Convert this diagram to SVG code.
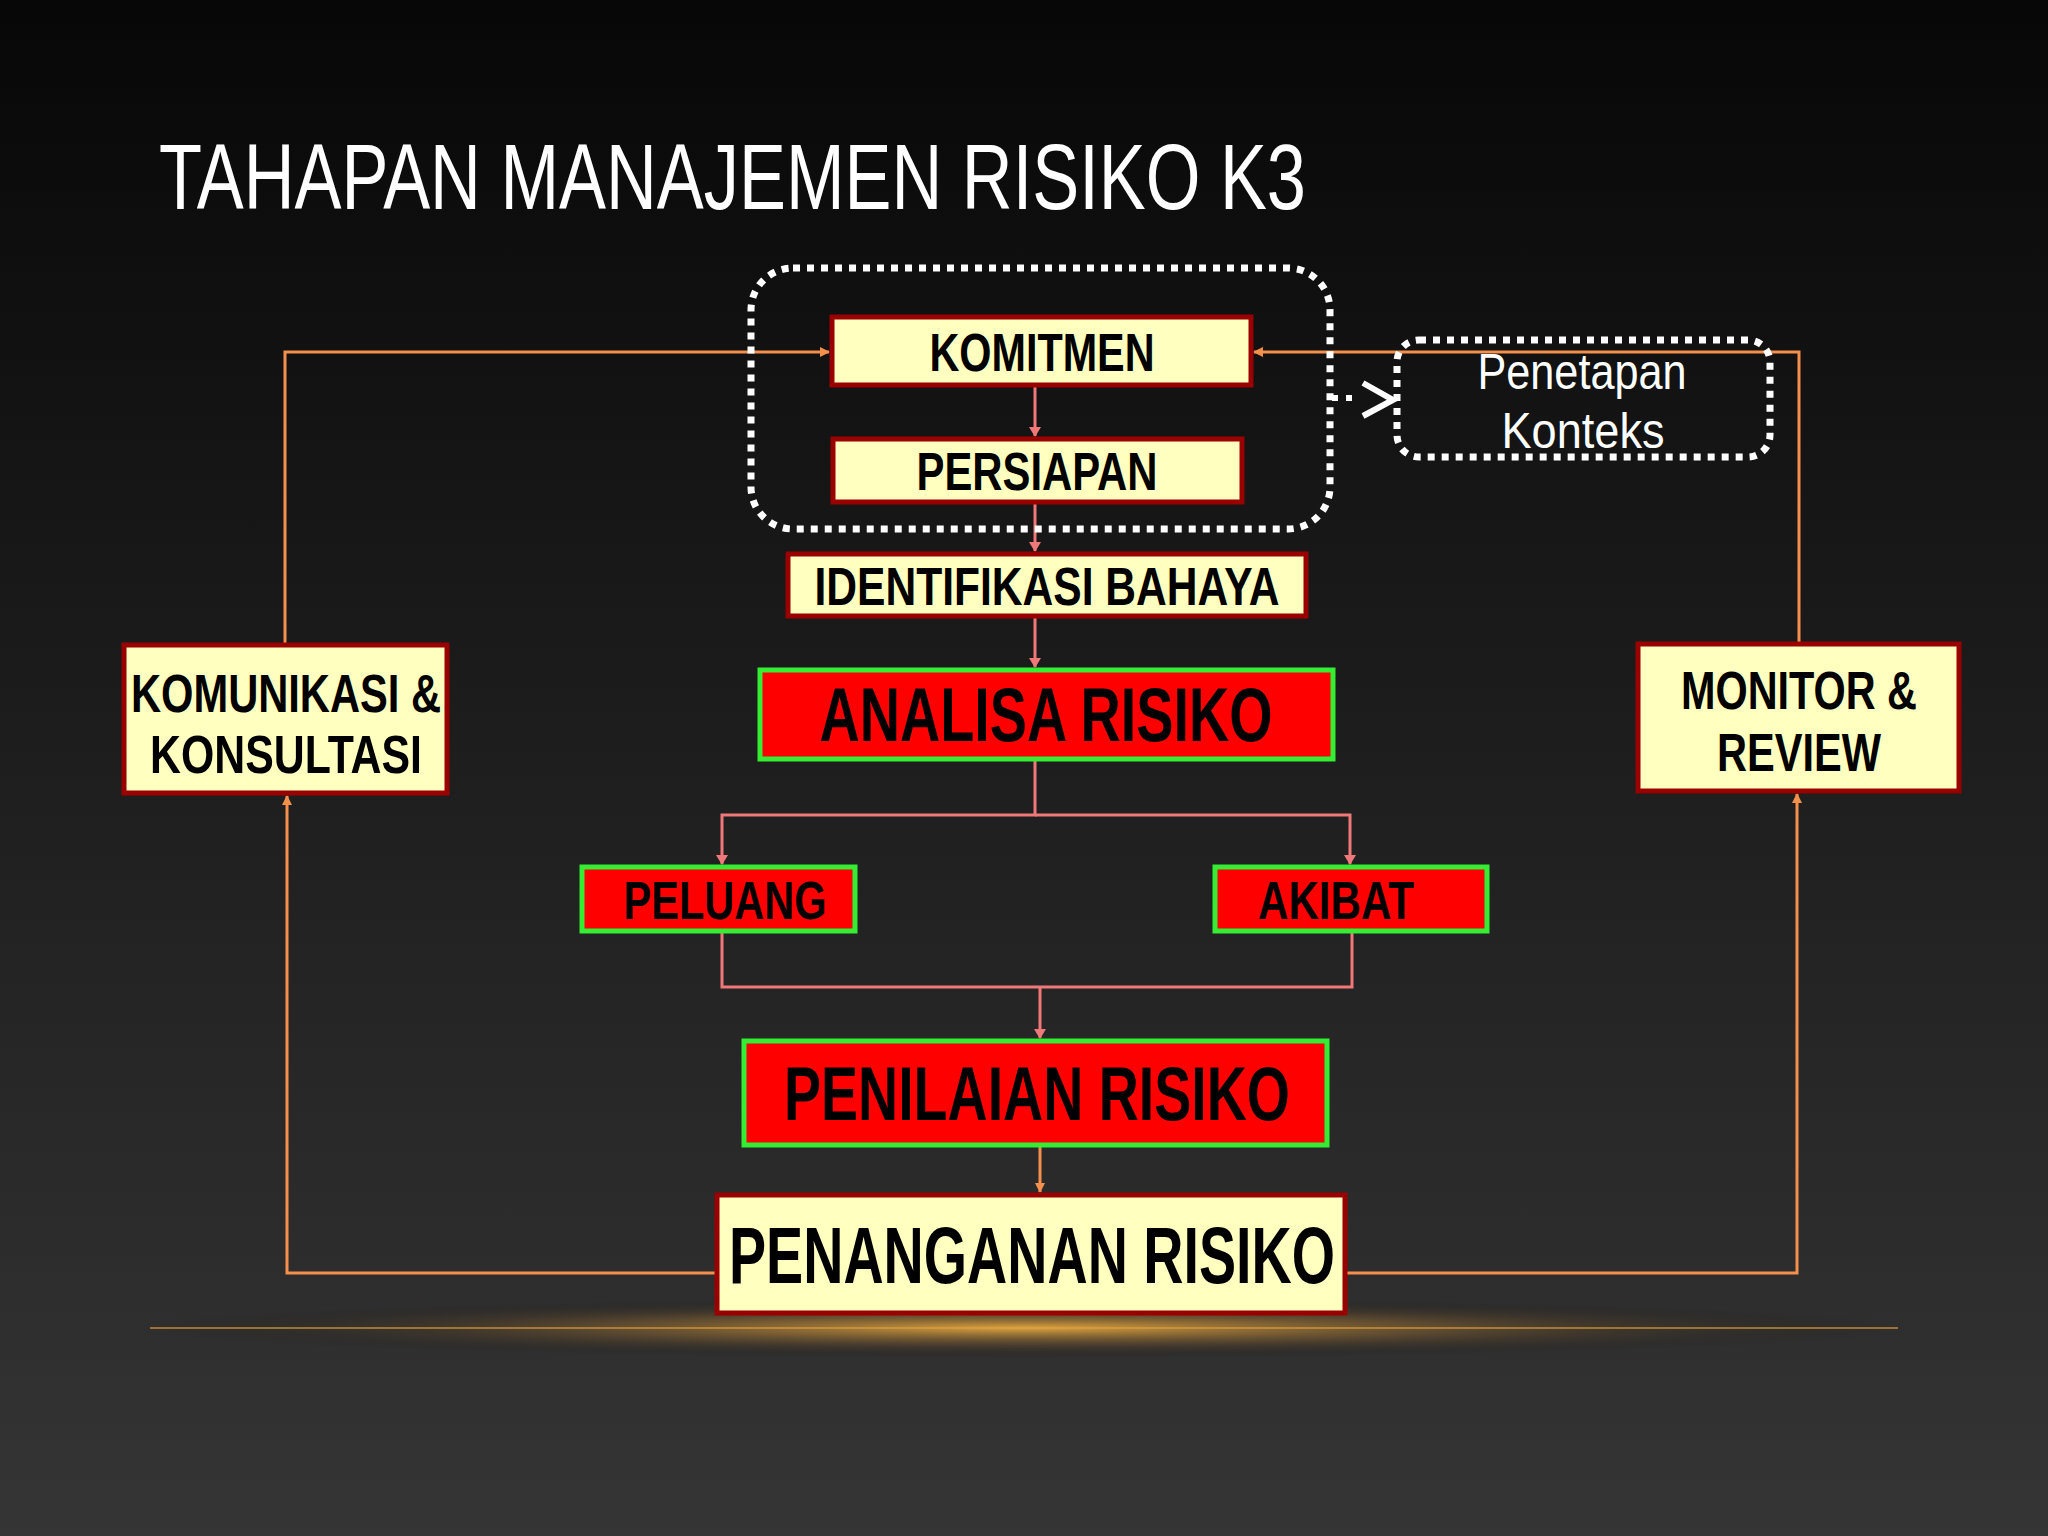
<svg xmlns="http://www.w3.org/2000/svg" width="2048" height="1536" viewBox="0 0 2048 1536">
<defs>
<linearGradient id="bg" x1="0" y1="0" x2="0" y2="1"><stop offset="0" stop-color="#070707"/><stop offset="1" stop-color="#353535"/></linearGradient>
<radialGradient id="glow" cx="0.5" cy="0.5" r="0.5"><stop offset="0" stop-color="#f0b040" stop-opacity="0.9"/><stop offset="0.5" stop-color="#a07030" stop-opacity="0.35"/><stop offset="1" stop-color="#000" stop-opacity="0"/></radialGradient>
<marker id="ao" markerWidth="10" markerHeight="10" refX="9" refY="5" orient="auto" markerUnits="userSpaceOnUse"><path d="M0,0 L10,5 L0,10 z" fill="#f4904c"/></marker>
<marker id="ap" markerWidth="10" markerHeight="12" refX="9" refY="6" orient="auto" markerUnits="userSpaceOnUse"><path d="M0,0 L10,6 L0,12 z" fill="#f07878"/></marker>
<style>
.y{fill:#ffffc0;stroke:#9a0000;stroke-width:5}
.r{fill:#ff0000;stroke:#33ee33;stroke-width:5}
.t{font-family:"Liberation Sans",Arial,sans-serif;font-weight:bold;fill:#000;text-anchor:middle}
.w{font-family:"Liberation Sans",Arial,sans-serif;fill:#fff;text-anchor:middle}
.o{fill:none;stroke:#f4904c;stroke-width:3}
.p{fill:none;stroke:#f07878;stroke-width:3}
.d{fill:none;stroke:#fff;stroke-width:7;stroke-dasharray:7 7}
</style>
</defs>
<rect width="2048" height="1536" fill="url(#bg)"/>
<ellipse cx="1024" cy="1328" rx="900" ry="30" fill="url(#glow)"/>
<rect x="150" y="1327" width="1748" height="2" fill="#e0a040" opacity="0.6"/>
<text x="159" y="209" font-family="Liberation Sans,Arial,sans-serif" font-size="92" fill="#fff" textLength="1147" lengthAdjust="spacingAndGlyphs">TAHAPAN MANAJEMEN RISIKO K3</text>
<g id="connectors">
<polyline class="o" points="717,1273 287,1273 287,796" marker-end="url(#ao)"/>
<polyline class="o" points="285,645 285,352 829,352" marker-end="url(#ao)"/>
<polyline class="o" points="1345,1273 1797,1273 1797,794" marker-end="url(#ao)"/>
<polyline class="o" points="1799,644 1799,352 1254,352" marker-end="url(#ao)"/>
<line class="o" x1="1040" y1="1145" x2="1040" y2="1192" marker-end="url(#ao)"/>
<line class="p" x1="1035" y1="385" x2="1035" y2="436" marker-end="url(#ap)"/>
<line class="p" x1="1035" y1="502" x2="1035" y2="551" marker-end="url(#ap)"/>
<line class="p" x1="1035" y1="616" x2="1035" y2="667" marker-end="url(#ap)"/>
<polyline class="p" points="1035,759 1035,815 722,815 722,864" marker-end="url(#ap)"/>
<polyline class="p" points="1035,815 1350,815 1350,864" marker-end="url(#ap)"/>
<polyline class="p" points="722,931 722,987 1352,987 1352,931"/>
<line class="p" x1="1040" y1="987" x2="1040" y2="1038" marker-end="url(#ap)"/>
<line x1="1332" y1="398" x2="1360" y2="398" stroke="#fff" stroke-width="6" stroke-dasharray="6 8"/>
<polyline points="1363,383 1393,400 1363,416" fill="none" stroke="#fff" stroke-width="6"/>
</g>
<g id="group-dashed"><rect class="d" x="751" y="268" width="579" height="261" rx="42"/></g>
<g id="penetapan"><rect class="d" x="1397" y="340" width="373" height="117" rx="22"/>
<text class="w" x="1582" y="389" font-size="50" textLength="209" lengthAdjust="spacingAndGlyphs">Penetapan</text>
<text class="w" x="1583" y="448" font-size="50" textLength="163" lengthAdjust="spacingAndGlyphs">Konteks</text></g>
<g id="komitmen"><rect class="y" x="832" y="317" width="419" height="68"/><text class="t" x="1042" y="371" font-size="54" textLength="225" lengthAdjust="spacingAndGlyphs">KOMITMEN</text></g>
<g id="persiapan"><rect class="y" x="833" y="439" width="409" height="63"/><text class="t" x="1037" y="490" font-size="54" textLength="241" lengthAdjust="spacingAndGlyphs">PERSIAPAN</text></g>
<g id="identifikasi"><rect class="y" x="788" y="554" width="518" height="62"/><text class="t" x="1047" y="605" font-size="54" textLength="465" lengthAdjust="spacingAndGlyphs">IDENTIFIKASI BAHAYA</text></g>
<g id="analisa"><rect class="r" x="760" y="670" width="573" height="89"/><text class="t" x="1046" y="741" font-size="76" textLength="453" lengthAdjust="spacingAndGlyphs">ANALISA RISIKO</text></g>
<g id="peluang"><rect class="r" x="582" y="867" width="273" height="64"/><text class="t" x="725" y="919" font-size="54" textLength="203" lengthAdjust="spacingAndGlyphs">PELUANG</text></g>
<g id="akibat"><rect class="r" x="1215" y="867" width="272" height="64"/><text class="t" x="1336" y="919" font-size="54" textLength="156" lengthAdjust="spacingAndGlyphs">AKIBAT</text></g>
<g id="penilaian"><rect class="r" x="744" y="1041" width="583" height="104"/><text class="t" x="1037" y="1120" font-size="76" textLength="506" lengthAdjust="spacingAndGlyphs">PENILAIAN RISIKO</text></g>
<g id="penanganan"><rect class="y" x="717" y="1195" width="628" height="118"/><text class="t" x="1032" y="1283" font-size="80" textLength="606" lengthAdjust="spacingAndGlyphs">PENANGANAN RISIKO</text></g>
<g id="komunikasi"><rect class="y" x="124" y="645" width="323" height="148"/><text class="t" x="286" y="712" font-size="54" textLength="310" lengthAdjust="spacingAndGlyphs">KOMUNIKASI &amp;</text><text class="t" x="286" y="773" font-size="54" textLength="272" lengthAdjust="spacingAndGlyphs">KONSULTASI</text></g>
<g id="monitor"><rect class="y" x="1638" y="644" width="321" height="147"/><text class="t" x="1799" y="709" font-size="54" textLength="236" lengthAdjust="spacingAndGlyphs">MONITOR &amp;</text><text class="t" x="1799" y="771" font-size="54" textLength="164" lengthAdjust="spacingAndGlyphs">REVIEW</text></g>
</svg>
